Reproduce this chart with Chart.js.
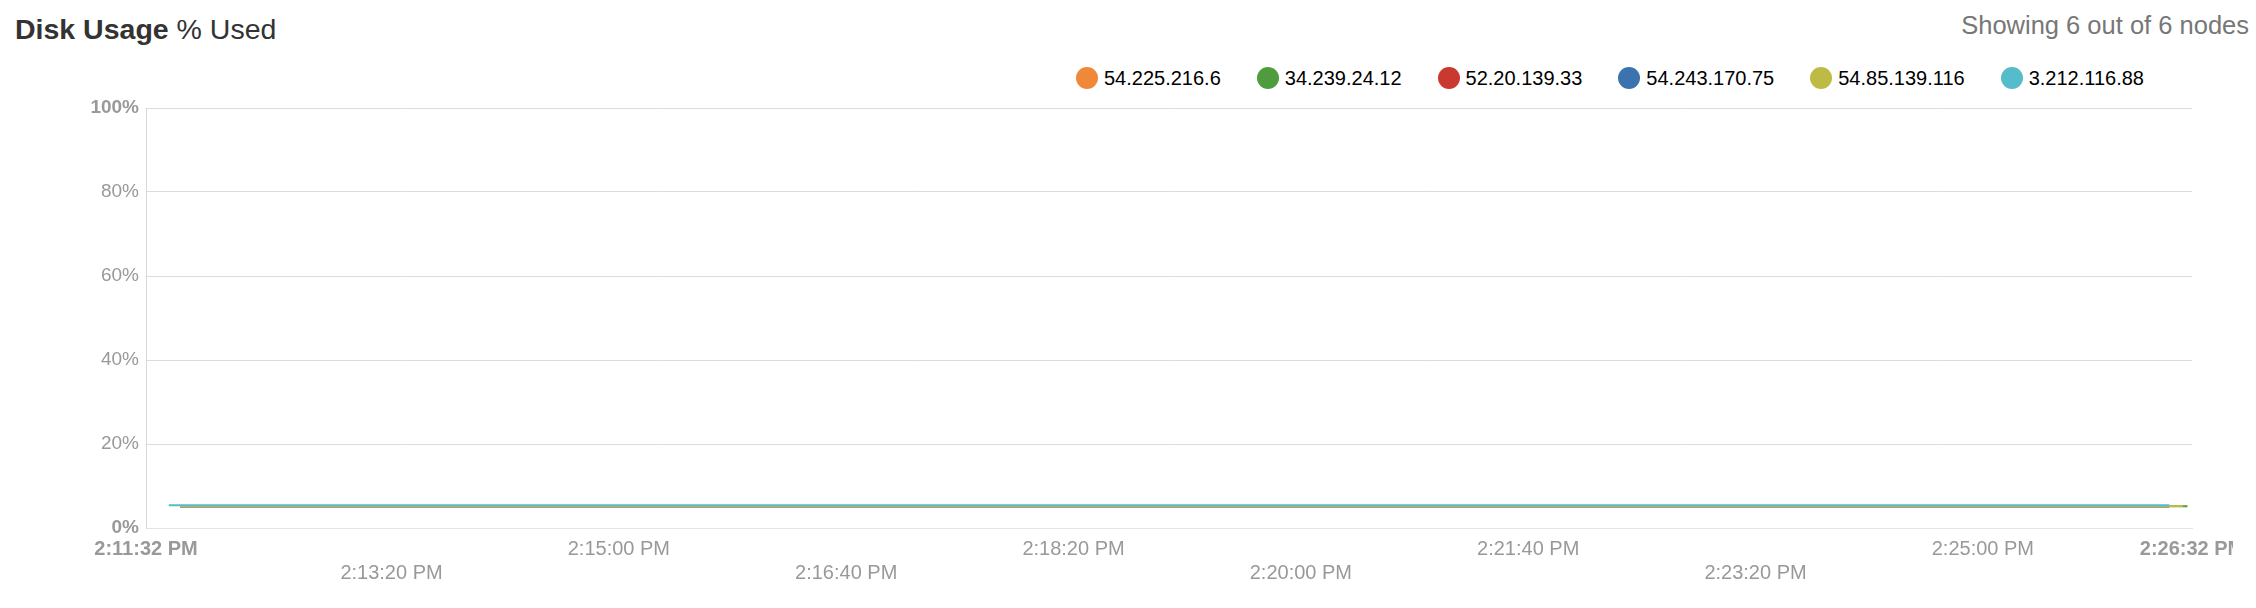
<!DOCTYPE html>
<html>
<head>
<meta charset="utf-8">
<script src="https://cdn.jsdelivr.net/npm/chart.js@4.4.1/dist/chart.umd.min.js"></script>
<style>
  html, body { margin: 0; padding: 0; background: #fff; }
  body { width: 2256px; height: 608px; position: relative; overflow: hidden;
         font-family: "Liberation Sans", Arial, Helvetica, sans-serif; }
  #title { position: absolute; left: 15px; top: 11px; font-size: 28.5px; line-height: 36px; color: #333; white-space: nowrap; }
  #title b { font-weight: bold; }
  #count { position: absolute; right: 7px; top: 9px; font-size: 25.5px; line-height: 32px; color: #777; white-space: nowrap; }
  #legend { position: absolute; left: 1076px; top: 66px; display: flex; align-items: center; white-space: nowrap; }
  .item { display: flex; align-items: center; margin-right: 36px; }
  .dot { width: 22px; height: 22px; border-radius: 50%; }
  .txt { margin-left: 6px; font-size: 20px; line-height: 24px; color: #000; }
  #wrap { position: absolute; left: 0; top: 80px; width: 2233px; height: 528px; }
</style>
</head>
<body>
<div id="title"><b>Disk Usage</b> % Used</div>
<div id="count">Showing 6 out of 6 nodes</div>
<div id="legend"></div>
<div id="wrap"><canvas id="c" width="2233" height="528"></canvas></div>
<script>
// ---- data (x in seconds after 2:11:32 PM) ----
const seriesNames = ['54.225.216.6', '34.239.24.12', '52.20.139.33', '54.243.170.75', '54.85.139.116', '3.212.116.88'];
const seriesColors = ['#f0883a', '#4f9c3e', '#c9392f', '#3a73ae', '#bebb44', '#56bccb'];
const sampleSecs = [10, 15, 60, 120, 180, 240, 300, 360, 420, 480, 540, 600, 660, 720, 780, 840, 890, 896, 898];
const orangeVals = [null, 5.2, 5.2, 5.2, 5.2, 5.2, 5.2, 5.2, 5.2, 5.2, 5.2, 5.2, 5.2, 5.2, 5.2, 5.2, 5.2, null, null];
const greenVals  = [null, 5.2, 5.2, 5.2, 5.2, 5.2, 5.2, 5.2, 5.2, 5.2, 5.2, 5.2, 5.2, 5.2, 5.2, 5.2, 5.2, 5.2, 5.2];
const redVals    = [null, 5.2, 5.2, 5.2, 5.2, 5.2, 5.2, 5.2, 5.2, 5.2, 5.2, 5.2, 5.2, 5.2, 5.2, 5.2, 5.2, null, null];
const blueVals   = [null, 5.2, 5.2, 5.2, 5.2, 5.2, 5.2, 5.2, 5.2, 5.2, 5.2, 5.2, 5.2, 5.2, 5.2, 5.2, 5.2, null, null];
const oliveVals  = [null, 5.25, 5.25, 5.25, 5.25, 5.25, 5.25, 5.25, 5.25, 5.25, 5.25, 5.25, 5.25, 5.25, 5.25, 5.25, 5.25, 5.25, null];
const cyanVals   = [5.4, 5.4, 5.4, 5.4, 5.4, 5.4, 5.4, 5.4, 5.4, 5.4, 5.4, 5.4, 5.4, 5.4, 5.4, 5.4, 5.4, null, null];
const seriesVals = [orangeVals, greenVals, redVals, blueVals, oliveVals, cyanVals];

const xTickSecs = [0, 108, 208, 308, 408, 508, 608, 708, 808, 900];
const xTickLabels = ['2:11:32 PM', '2:13:20 PM', '2:15:00 PM', '2:16:40 PM', '2:18:20 PM', '2:20:00 PM', '2:21:40 PM', '2:23:20 PM', '2:25:00 PM', '2:26:32 PM'];
const yTickValues = [0, 20, 40, 60, 80, 100];
const yTickLabels = ['0%', '20%', '40%', '60%', '80%', '100%'];

// ---- legend (HTML, built from the arrays) ----
const legend = document.getElementById('legend');
seriesNames.forEach((n, i) => {
  const it = document.createElement('div'); it.className = 'item';
  const d = document.createElement('div'); d.className = 'dot'; d.style.background = seriesColors[i];
  const t = document.createElement('span'); t.className = 'txt'; t.textContent = n;
  it.appendChild(d); it.appendChild(t); legend.appendChild(it);
});

const FAMILY = '"Liberation Sans", Arial, Helvetica, sans-serif';
const lastX = xTickSecs.length - 1;

const datasets = seriesNames.map((n, i) => ({
  label: n,
  data: sampleSecs.map((s, j) => ({ x: s, y: seriesVals[i][j] })),
  borderColor: seriesColors[i],
  backgroundColor: seriesColors[i],
  borderWidth: 2,
  pointRadius: 0,
  tension: 0,
  fill: false,
  spanGaps: false,
  order: seriesNames.length - i
}));

new Chart(document.getElementById('c'), {
  type: 'line',
  data: { datasets },
  options: {
    responsive: false,
    animation: false,
    devicePixelRatio: 1,
    layout: { padding: { left: 0, right: 41, top: 28, bottom: 0 } },
    plugins: { legend: { display: false }, tooltip: { enabled: false } },
    scales: {
      x: {
        type: 'linear',
        min: 0, max: 900,
        afterBuildTicks: s => { s.ticks = xTickSecs.map(v => ({ value: v })); },
        afterFit: s => { s.paddingLeft = 0; s.paddingRight = 0; s.height = 80; },
        ticks: {
          autoSkip: false, maxRotation: 0, minRotation: 0, padding: 9, color: '#999',
          font: ctx => ({ family: FAMILY, size: 20,
            weight: (ctx.index === 0 || ctx.index === lastX) ? 'bold' : 'normal' }),
          callback: (v, i) => ((i % 2 === 1 && i !== lastX) ? ['', xTickLabels[i]] : xTickLabels[i])
        },
        grid: { display: false, drawTicks: false },
        border: { display: true, color: '#e4e4e4', width: 1 }
      },
      y: {
        min: 0, max: 100,
        afterBuildTicks: s => { s.ticks = yTickValues.map(v => ({ value: v })); },
        afterFit: s => { s.width = 146; },
        ticks: {
          padding: 7, color: '#999',
          font: ctx => ({ family: FAMILY, size: 19,
            weight: (ctx.index === 0 || ctx.index === yTickValues.length - 1) ? 'bold' : 'normal' }),
          callback: (v, i) => yTickLabels[i]
        },
        grid: { color: '#dcdcdc', drawTicks: false },
        border: { display: true, color: '#d8d8d8', width: 1 }
      }
    }
  }
});
</script>
</body>
</html>
